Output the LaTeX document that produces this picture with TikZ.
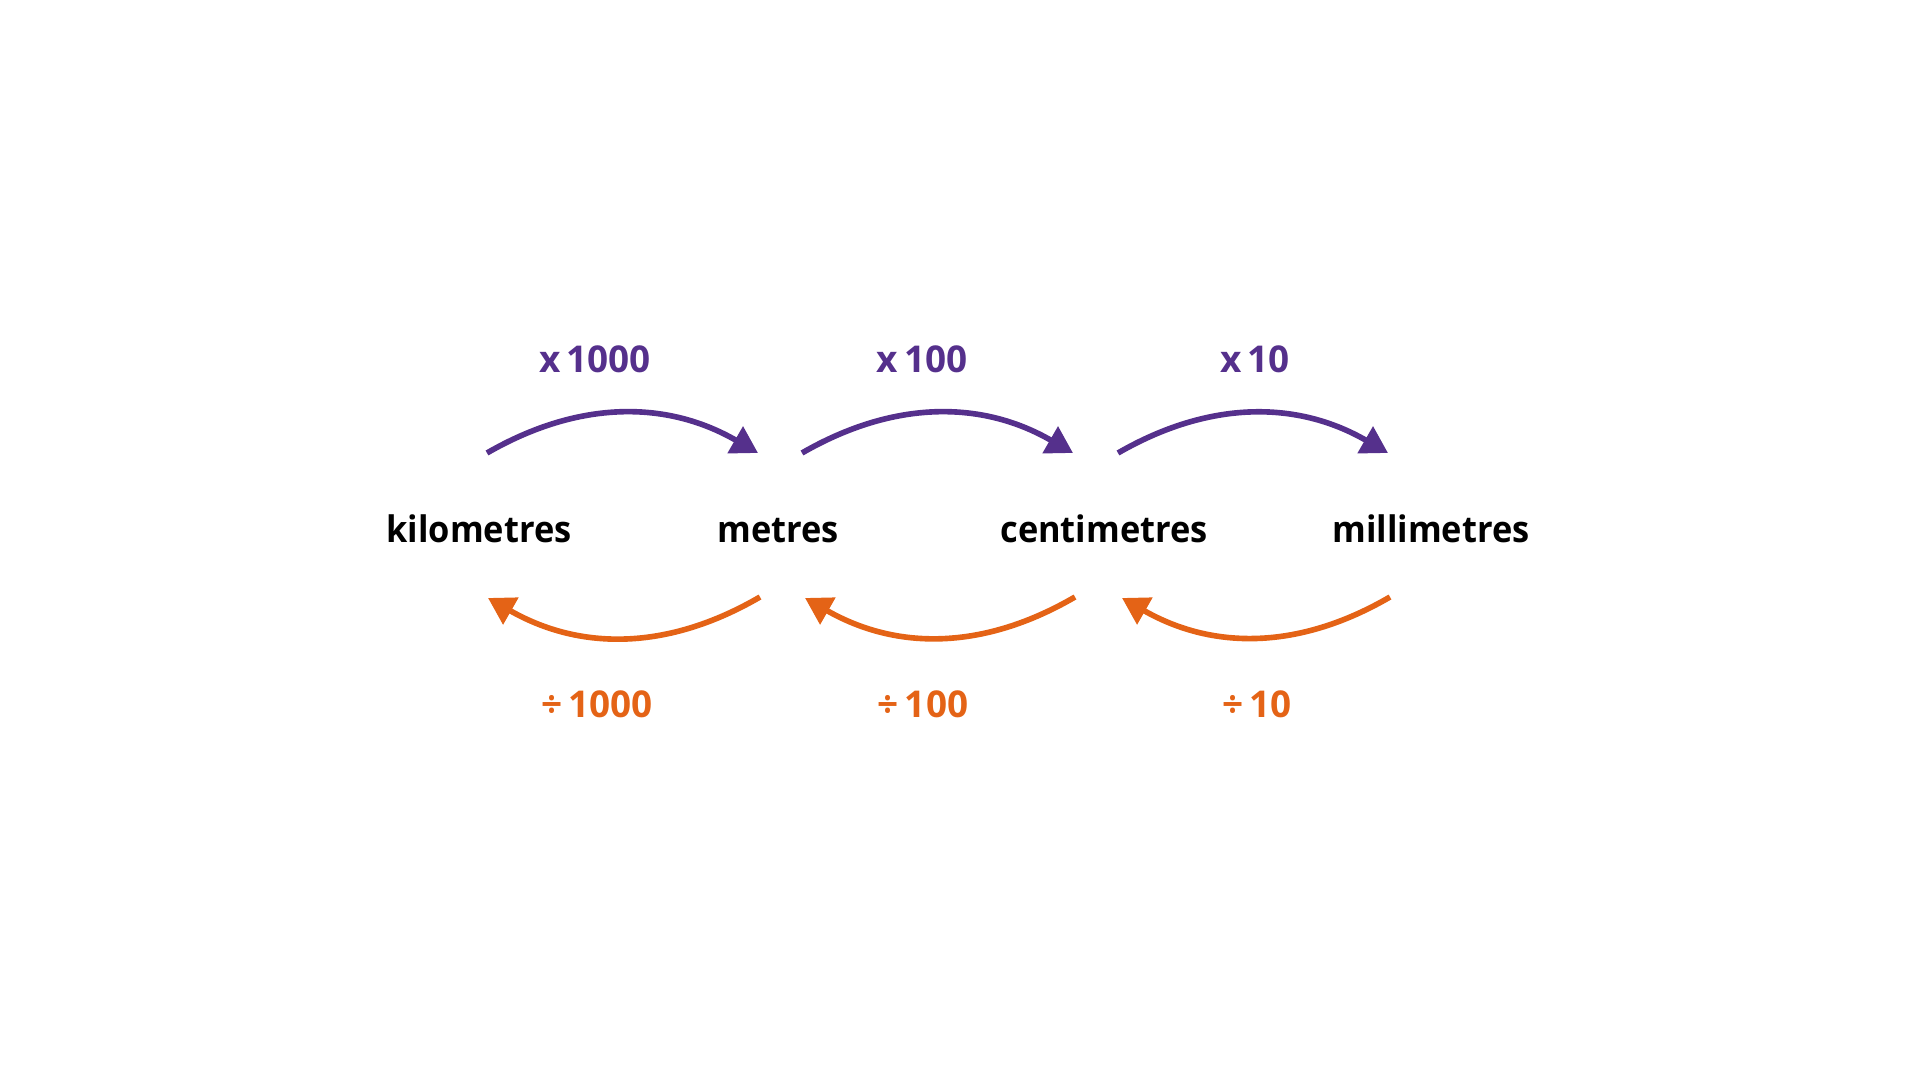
\documentclass[tikz,border=0pt]{standalone}
\usepackage{fontspec}
\setmainfont{Open Sans}
\newfontfamily\unitefont{Open Sans}[FakeStretch=0.94]
\definecolor{violetfleche}{RGB}{85,48,140}
\definecolor{orangefleche}{RGB}{228,99,22}
\usetikzlibrary{arrows.meta}

\begin{document}
\begin{tikzpicture}[x=0.01cm,y=-0.01cm,
  unite/.style={anchor=base,inner sep=0pt,font=\unitefont\bfseries\fontsize{10.4pt}{12pt}\selectfont},
  facteur/.style={anchor=base,inner sep=0pt,font=\bfseries\fontsize{10.5pt}{12pt}\selectfont},
  mult/.style={draw=violetfleche,line width=1.6pt,-{Triangle[length=7.5pt,width=8.5pt]}},
  divi/.style={draw=orangefleche,line width=1.6pt,-{Triangle[length=7.5pt,width=8.5pt]}}]

% Cadre de l'image
\useasboundingbox (0,0) rectangle (1920,1080);

% Noms des unités
\node[unite] (km) at (479,543) {kilometres};
\node[unite] (m) at (778,543) {metres};
\node[unite] (cm) at (1104,543) {centimetres};
\node[unite] (mm) at (1431,543) {millimetres};

% Extrémités des flèches
\coordinate (kmh) at (487,453);
\coordinate (mhe) at (758,453);
\coordinate (mhs) at (802,453);
\coordinate (cmhe) at (1073,453);
\coordinate (cmhs) at (1118,453);
\coordinate (mmh) at (1388,453);
\coordinate (mmb) at (1390,597);
\coordinate (cmbe) at (1122,598);
\coordinate (cmbs) at (1075,597);
\coordinate (mbe) at (805,598);
\coordinate (mbs) at (760,597);
\coordinate (kmb) at (488,598);

% Flèches de multiplication
\draw[mult] (kmh) to[bend left=30] (mhe);
\draw[mult] (mhs) to[bend left=30] (cmhe);
\draw[mult] (cmhs) to[bend left=30] (mmh);

% Flèches de division
\draw[divi] (mbs) to[bend left=30] (kmb);
\draw[divi] (cmbs) to[bend left=30] (mbe);
\draw[divi] (mmb) to[bend left=30] (cmbe);

% Étiquetage des facteurs
\node[facteur,text=violetfleche] (f1) at (595,373) {x\,1000};
\node[facteur,text=violetfleche] (f2) at (922,373) {x\,100};
\node[facteur,text=violetfleche] (f3) at (1255,373) {x\,10};
\node[facteur,text=orangefleche] (d1) at (597,718) {÷\,1000};
\node[facteur,text=orangefleche] (d2) at (923,718) {÷\,100};
\node[facteur,text=orangefleche] (d3) at (1257,718) {÷\,10};

\end{tikzpicture}
\end{document}
